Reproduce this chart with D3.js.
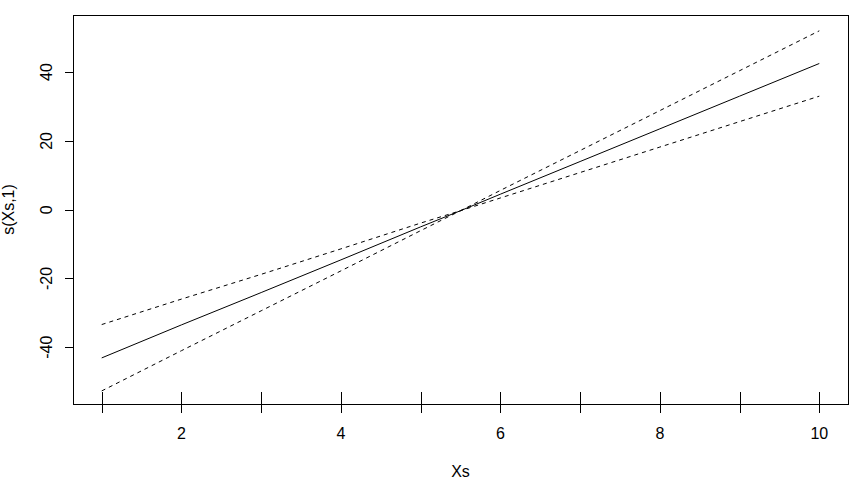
<!DOCTYPE html>
<html><head><meta charset="utf-8">
<script src="https://cdn.jsdelivr.net/npm/d3@7"></script>
<style>body{margin:0;background:#fff}text{font-family:"Liberation Sans",Arial,sans-serif;font-size:16px;fill:#000}</style>
</head><body>
<svg id="c" width="854" height="487"></svg>
<script>
const xs = [1, 2, 3, 4, 5, 5.5, 6, 7, 8, 9, 10];
const fit = [-43.1, -33.5, -24.1, -14.6, -5.0, -0.3, 4.5, 14.0, 23.5, 33.0, 42.5];
const upper = [-33.4, -26.0, -18.8, -11.4, -3.9, -0.3, 5.6, 17.2, 28.8, 40.4, 52.0];
const lower = [-52.7, -41.0, -29.4, -17.8, -6.1, -0.3, 3.4, 10.8, 18.2, 25.6, 33.0];
const rug = [1, 2, 3, 4, 5, 6, 7, 8, 9, 10];
const xTicks = [2, 4, 6, 8, 10];
const yTicks = [-40, -20, 0, 20, 40];
const xLabel = "Xs", yLabel = "s(Xs,1)";

const L = 73, R = 848, T = 15, B = 404;
const svg = d3.select("#c");
const x = d3.scaleLinear().domain([0.64, 10.36]).range([L, R]);
const y = d3.scaleLinear().domain([-56.5, 56.6]).range([B, T]);

const line = d3.line().x((d, i) => x(xs[i])).y(d => y(d));
svg.append("path").attr("d", line(fit)).attr("fill", "none").attr("stroke", "#000").attr("stroke-width", 1);
[upper, lower].forEach(a => svg.append("path").attr("d", line(a)).attr("fill", "none")
  .attr("stroke", "#000").attr("stroke-width", 1).attr("stroke-dasharray", "4,4"));

// rug
svg.append("g").selectAll("line").data(rug).join("line")
  .attr("x1", d => Math.round(x(d)) + 0.5).attr("x2", d => Math.round(x(d)) + 0.5)
  .attr("y1", B - 12).attr("y2", B).attr("stroke", "#000");

// box
svg.append("rect").attr("x", L + 0.5).attr("y", T + 0.5).attr("width", R - L).attr("height", B - T)
  .attr("fill", "none").attr("stroke", "#000");

// x axis
const gx = svg.append("g");
gx.selectAll("line").data(rug).join("line")
  .attr("x1", d => Math.round(x(d)) + 0.5).attr("x2", d => Math.round(x(d)) + 0.5)
  .attr("y1", B).attr("y2", B + 9).attr("stroke", "#000");
gx.selectAll("text").data(xTicks).join("text")
  .attr("x", d => x(d)).attr("y", 439).attr("text-anchor", "middle").text(d => d);
svg.append("text").attr("x", (L + R) / 2).attr("y", 477).attr("text-anchor", "middle").text(xLabel);

// y axis
const gy = svg.append("g");
gy.selectAll("line").data(yTicks).join("line")
  .attr("x1", L - 8).attr("x2", L).attr("y1", d => Math.round(y(d)) + 0.5).attr("y2", d => Math.round(y(d)) + 0.5)
  .attr("stroke", "#000");
gy.selectAll("text").data(yTicks).join("text")
  .attr("transform", d => `translate(52,${y(d)}) rotate(-90)`).attr("text-anchor", "middle").text(d => d);
svg.append("text").attr("transform", `translate(14,${(T + B) / 2}) rotate(-90)`).attr("text-anchor", "middle").text(yLabel);
</script>
</body></html>
